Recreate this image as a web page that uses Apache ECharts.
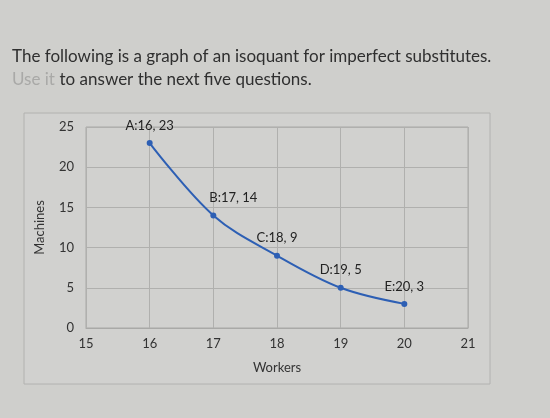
<!DOCTYPE html>
<html lang="en">
<head>
<meta charset="UTF-8">
<title>isoquant</title>
<script src="https://cdn.jsdelivr.net/npm/echarts@6/dist/echarts.min.js"></script>
<style>
  html, body { margin: 0; padding: 0; background: #cfcfcc; }
</style>
</head>
<body>
<div id="main" style="width: 550px;height: 418px"></div>
<script>
// points on the isoquant
var pointNames = ['A', 'B', 'C', 'D', 'E'];
var workers = [16, 17, 18, 19, 20];
var machines = [23, 14, 9, 5, 3];

var titleLine1 = 'The following is a graph of an isoquant for imperfect substitutes.';
var titleLine2 = 'to answer the next five questions.';

var seriesData = [];
for (var i = 0; i < workers.length; i++) {
    var item = { name: pointNames[i], value: [workers[i], machines[i]] };
    if (pointNames[i] === 'B') {
        item.label = { offset: [20, 0] };  // B label sits to the right in the original
    }
    seriesData.push(item);
}

var option = {
    backgroundColor: '#cfcfcc',
    textStyle: { fontFamily: 'Lato' },
    title: {
        text: '{w|' + titleLine1 + '}\n{faint|Use it} {w|' + titleLine2 + '}',
        left: 12,
        top: 45,
        padding: 0,
        textStyle: {
            fontWeight: 'normal',
            rich: {
                w: { fontSize: 17, color: '#2f2f2f', fontFamily: 'Lato', fontWeight: 'normal', lineHeight: 23 },
                faint: { fontSize: 17, color: '#a9a9a7', fontFamily: 'Lato', fontWeight: 'normal', lineHeight: 23 }
            }
        }
    },
    graphic: [{
        type: 'rect',
        shape: { x: 24, y: 113, width: 466, height: 271 },
        style: { fill: 'rgba(255,255,255,0.06)', stroke: '#b2b2b0', lineWidth: 1 },
        z: -1
    }],
    grid: {
        left: 86, right: 82, top: 127, bottom: 90,
        show: true, borderColor: '#a9a9a7', borderWidth: 1
    },
    xAxis: {
        type: 'value',
        min: 15, max: 21, interval: 1,
        name: 'Workers',
        nameLocation: 'middle',
        nameGap: 33,
        nameTextStyle: { color: '#333', fontSize: 13 },
        axisLine: { show: true, lineStyle: { color: '#a9a9a7' } },
        axisTick: { show: false },
        axisLabel: { color: '#333', fontSize: 13, margin: 9 },
        splitLine: { show: true, lineStyle: { color: '#b0b0ae', width: 1 } }
    },
    yAxis: {
        type: 'value',
        min: 0, max: 25, interval: 5,
        name: 'Machines',
        nameLocation: 'middle',
        nameGap: 40,
        nameRotate: 90,
        nameTextStyle: { color: '#333', fontSize: 13 },
        axisLine: { show: false },
        axisTick: { show: false },
        axisLabel: { color: '#333', fontSize: 13, margin: 12 },
        splitLine: { show: true, lineStyle: { color: '#b0b0ae', width: 1 } }
    },
    series: [{
        type: 'line',
        smooth: 0.35,
        symbol: 'circle',
        symbolSize: 6,
        lineStyle: { color: '#2d5fb4', width: 2 },
        itemStyle: { color: '#2d5fb4' },
        label: {
            show: true,
            position: 'top',
            distance: 8,
            color: '#222',
            fontSize: 13,
            formatter: function (p) {
                return p.name + ':' + p.value[0] + ', ' + p.value[1];
            }
        },
        data: seriesData
    }]
};

var myChart = echarts.init(document.getElementById('main'));
myChart.setOption(option);
</script>
</body>
</html>
